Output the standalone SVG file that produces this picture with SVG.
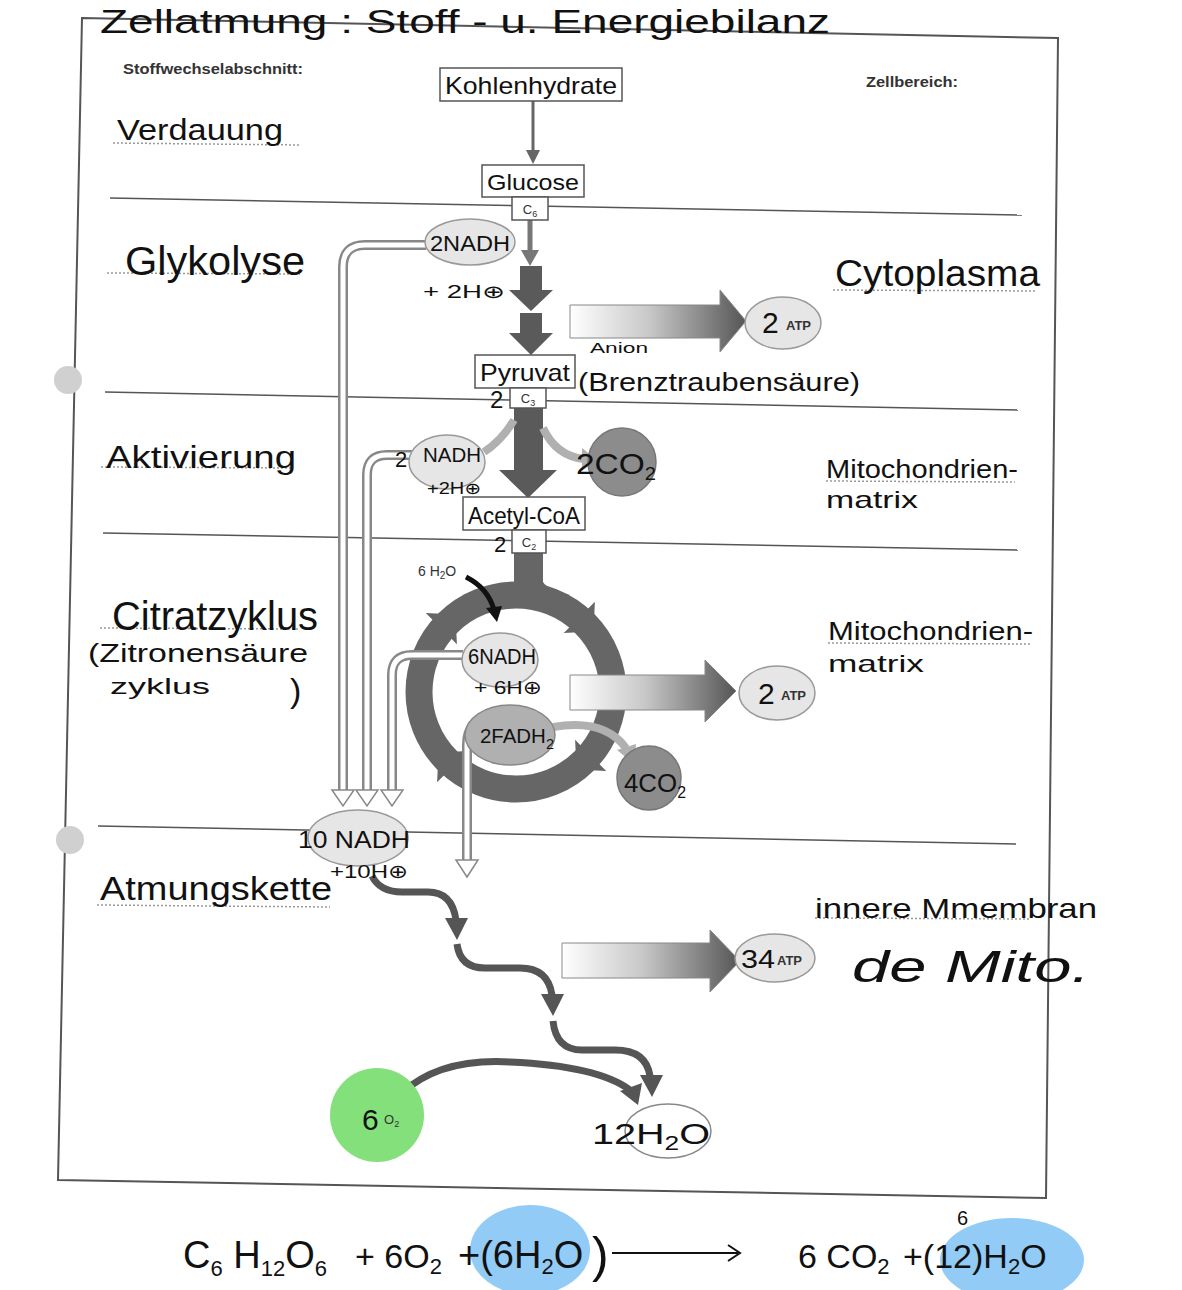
<svg xmlns="http://www.w3.org/2000/svg" width="1182" height="1290" viewBox="0 0 1182 1290">
<defs>
<style>
.hw{font-family:"Liberation Sans","DejaVu Sans",sans-serif;fill:#111}
.pr{font-family:"Liberation Sans",Arial,sans-serif;fill:#333}
.box{fill:#fff;stroke:#555;stroke-width:1.5}
.sep{stroke:#555;stroke-width:1.5;fill:none}
.dot{stroke:#999;stroke-width:1.5;stroke-dasharray:2 2;fill:none}
.ell{fill:#e6e6e6;stroke:#999;stroke-width:1.5}
.dark{fill:#8c8c8c;stroke:#777;stroke-width:1.5}
.holo{fill:none;stroke:#888;stroke-width:10}
.holi{fill:none;stroke:#fff;stroke-width:5}
.hhead{fill:#fff;stroke:#888;stroke-width:1.5}
.wave{fill:none;stroke:#555;stroke-width:7}
.whead{fill:#555}
.light{fill:none;stroke:#b0b0b0;stroke-width:8}
.lhead{fill:#b0b0b0}
</style>
<linearGradient id="atpg" x1="0" y1="0" x2="1" y2="0">
<stop offset="0" stop-color="#ffffff"/>
<stop offset="0.45" stop-color="#c8c8c8"/>
<stop offset="1" stop-color="#555"/>
</linearGradient>
<polygon id="tooth" points="-8,-22 -8,22 12,0" fill="#666"/>
</defs>
<rect x="0" y="0" width="1182" height="1290" fill="#fff"/>

<!-- page frame -->
<g id="frame">
<polygon points="82,18 1058,38 1046,1198 58,1180" fill="none" stroke="#555" stroke-width="2"/>
<circle cx="68" cy="380" r="14" fill="#d0d0d0"/>
<circle cx="70" cy="840" r="14" fill="#d0d0d0"/>
<line class="sep" x1="110" y1="198" x2="1022" y2="215"/>
<line class="sep" x1="105" y1="392" x2="1018" y2="410"/>
<line class="sep" x1="103" y1="533" x2="1018" y2="550"/>
<line class="sep" x1="98" y1="826" x2="1016" y2="844"/>
</g>

<g id="title">
<text class="hw" x="100" y="33" font-size="34" textLength="730" lengthAdjust="spacingAndGlyphs">Zellatmung : Stoff - u. Energiebilanz</text>
</g>
<g id="headers">
<text class="pr" x="123" y="74" font-size="14" font-weight="bold" textLength="180" lengthAdjust="spacingAndGlyphs">Stoffwechselabschnitt:</text>
<text class="pr" x="866" y="87" font-size="14" font-weight="bold" textLength="92" lengthAdjust="spacingAndGlyphs">Zellbereich:</text>
</g>

<!-- left labels -->
<g id="labels-left">
<line class="dot" x1="113" y1="143" x2="300" y2="145"/>
<text class="hw" x="117" y="140" font-size="30" textLength="166" lengthAdjust="spacingAndGlyphs">Verdauung</text>
<line class="dot" x1="107" y1="273" x2="300" y2="274"/>
<text class="hw" x="125" y="275" font-size="40" textLength="180" lengthAdjust="spacingAndGlyphs">Glykolyse</text>
<line class="dot" x1="101" y1="467" x2="290" y2="468"/>
<text class="hw" x="106" y="468" font-size="32" textLength="190" lengthAdjust="spacingAndGlyphs">Aktivierung</text>
<line class="dot" x1="100" y1="628" x2="300" y2="629"/>
<text class="hw" x="112" y="630" font-size="40" textLength="206" lengthAdjust="spacingAndGlyphs">Citratzyklus</text>
<text class="hw" x="88" y="662" font-size="26" textLength="220" lengthAdjust="spacingAndGlyphs">(Zitronensäure</text>
<text class="hw" x="110" y="694" font-size="22" textLength="100" lengthAdjust="spacingAndGlyphs">zyklus</text>
<text class="hw" x="290" y="702" font-size="34">)</text>
<line class="dot" x1="97" y1="905" x2="330" y2="907"/>
<text class="hw" x="100" y="900" font-size="34" textLength="232" lengthAdjust="spacingAndGlyphs">Atmungskette</text>
</g>

<!-- right labels -->
<g id="labels-right">
<line class="dot" x1="833" y1="290" x2="1035" y2="291"/>
<text class="hw" x="835" y="286" font-size="36" textLength="205" lengthAdjust="spacingAndGlyphs">Cytoplasma</text>
<line class="dot" x1="826" y1="481" x2="1015" y2="482"/>
<text class="hw" x="826" y="478" font-size="26" textLength="192" lengthAdjust="spacingAndGlyphs">Mitochondrien-</text>
<text class="hw" x="826" y="508" font-size="24" textLength="92" lengthAdjust="spacingAndGlyphs">matrix</text>
<line class="dot" x1="828" y1="643" x2="1030" y2="644"/>
<text class="hw" x="828" y="640" font-size="26" textLength="205" lengthAdjust="spacingAndGlyphs">Mitochondrien-</text>
<text class="hw" x="828" y="672" font-size="24" textLength="96" lengthAdjust="spacingAndGlyphs">matrix</text>
<line class="dot" x1="815" y1="918" x2="1030" y2="919"/>
<text class="hw" x="815" y="918" font-size="28" textLength="282" lengthAdjust="spacingAndGlyphs">innere Mmembran</text>
<text class="hw" x="852" y="982" font-size="44" font-style="italic" textLength="238" lengthAdjust="spacingAndGlyphs">de Mito.</text>
</g>

<!-- connectors -->
<g id="connectors">
<line x1="533" y1="101" x2="533" y2="152" stroke="#666" stroke-width="3"/>
<polygon points="526,150 540,150 533,164" fill="#666"/>
<line x1="530" y1="220" x2="530" y2="252" stroke="#777" stroke-width="5"/>
<polygon points="521,250 539,250 530,266" fill="#777"/>
<polygon points="520,266 542,266 542,290 553,290 531,311 509,290 520,290" fill="#5a5a5a"/>
<polygon points="520,313 542,313 542,333 553,333 531,355 509,333 520,333" fill="#5a5a5a"/>
<polygon points="514,408 543,408 543,470 557,470 528,498 499,470 514,470" fill="#5a5a5a"/>
<path class="light" d="M484,452 Q502,440 514,420"/>
<path class="light" d="M543,428 Q556,456 584,459"/>
<polygon class="lhead" points="582,448 597,460 582,471"/>
<path d="M514,553 L543,553 L543,582 Q548,590 570,595 L462,595 Q509,590 514,582 Z" fill="#666"/>
<circle cx="516" cy="692" r="97" fill="none" stroke="#666" stroke-width="27"/>
<use href="#tooth" transform="translate(585,623) rotate(45)"/>
<use href="#tooth" transform="translate(585,761) rotate(135)"/>
<use href="#tooth" transform="translate(447,761) rotate(225)"/>
<use href="#tooth" transform="translate(447,623) rotate(315)"/>
<path d="M466,577 Q488,588 494,610" fill="none" stroke="#111" stroke-width="5"/>
<polygon points="486,608 502,606 497,622" fill="#111"/>
<path class="light" d="M553,727 Q604,718 626,748"/>
<polygon class="lhead" points="617,750 636,744 634,764"/>
<polygon points="570,305 720,305 720,290 746,321 720,352 720,338 570,338" fill="url(#atpg)" stroke="#888" stroke-width="1"/>
<polygon points="570,675 705,675 705,660 736,691 705,722 705,710 570,710" fill="url(#atpg)" stroke="#888" stroke-width="1"/>
<polygon points="562,943 710,943 710,930 740,961 710,992 710,978 562,978" fill="url(#atpg)" stroke="#888" stroke-width="1"/>
<path class="holo" d="M426,245 L365,245 Q343,245 343,267 L343,792"/>
<path class="holi" d="M426,245 L365,245 Q343,245 343,267 L343,792"/>
<polygon class="hhead" points="332,790 354,790 343,806"/>
<path class="holo" d="M412,455 L387,455 Q367,455 367,475 L367,792"/>
<path class="holi" d="M412,455 L387,455 Q367,455 367,475 L367,792"/>
<polygon class="hhead" points="356,790 378,790 367,806"/>
<path class="holo" d="M463,655 L412,655 Q392,655 392,675 L392,792"/>
<path class="holi" d="M463,655 L412,655 Q392,655 392,675 L392,792"/>
<polygon class="hhead" points="381,790 403,790 392,806"/>
<path class="holo" d="M492,716 Q467,720 467,745 L467,862"/>
<path class="holi" d="M492,716 Q467,720 467,745 L467,862"/>
<polygon class="hhead" points="456,860 478,860 467,877"/>
<path class="wave" d="M372,876 Q380,892 402,892 L428,892 Q452,892 456,920"/>
<polygon class="whead" points="445,918 468,918 457,940"/>
<path class="wave" d="M457,944 Q460,968 485,968 L520,968 Q548,968 552,995"/>
<polygon class="whead" points="541,994 564,994 553,1016"/>
<path class="wave" d="M553,1021 Q556,1050 582,1050 L615,1050 Q646,1050 650,1076"/>
<polygon class="whead" points="640,1075 663,1075 652,1097"/>
<path class="wave" d="M402,1093 Q440,1058 510,1062 Q598,1066 630,1090"/>
<polygon class="whead" points="620,1091 642,1083 638,1105"/>
</g>

<!-- nodes -->
<g id="kohlenhydrate">
<rect class="box" x="440" y="68" width="182" height="33"/>
<text class="hw" x="531" y="94" font-size="24" text-anchor="middle" textLength="172" lengthAdjust="spacingAndGlyphs">Kohlenhydrate</text>
</g>
<g id="glucose">
<rect class="box" x="482" y="165" width="102" height="32"/>
<text class="hw" x="533" y="190" font-size="22" text-anchor="middle" textLength="92" lengthAdjust="spacingAndGlyphs">Glucose</text>
<rect class="box" x="512" y="197" width="36" height="23"/>
<text class="pr" x="530" y="214" font-size="13" text-anchor="middle">C<tspan font-size="9" dy="3">6</tspan></text>
</g>
<g id="nadh-glyk">
<ellipse class="ell" cx="470" cy="242" rx="45" ry="23"/>
<text class="hw" x="470" y="251" font-size="22" text-anchor="middle" textLength="80" lengthAdjust="spacingAndGlyphs">2NADH</text>
<text class="hw" x="423" y="298" font-size="18" textLength="82" lengthAdjust="spacingAndGlyphs">+ 2H⊕</text>
</g>
<g id="atp-glyk">
<ellipse class="ell" cx="783" cy="323" rx="38" ry="26"/>
<text class="hw" x="762" y="333" font-size="30">2</text>
<text class="pr" x="786" y="330" font-size="13" font-weight="bold">ATP</text>
</g>
<g id="pyruvat">
<rect class="box" x="475" y="355" width="100" height="33"/>
<text class="hw" x="525" y="381" font-size="24" text-anchor="middle" textLength="90" lengthAdjust="spacingAndGlyphs">Pyruvat</text>
<rect class="box" x="510" y="388" width="36" height="20"/>
<text class="pr" x="528" y="403" font-size="13" text-anchor="middle">C<tspan font-size="9" dy="3">3</tspan></text>
<text class="hw" x="490" y="408" font-size="24">2</text>
<text class="hw" x="590" y="353" font-size="15" textLength="58" lengthAdjust="spacingAndGlyphs">Anion</text>
<text class="hw" x="578" y="391" font-size="26" textLength="282" lengthAdjust="spacingAndGlyphs">(Brenztraubensäure)</text>
</g>
<g id="nadh-akt">
<ellipse class="ell" cx="447" cy="462" rx="38" ry="27"/>
<text class="hw" x="395" y="467" font-size="22">2</text>
<text class="hw" x="452" y="462" font-size="21" text-anchor="middle" textLength="58" lengthAdjust="spacingAndGlyphs">NADH</text>
<text class="hw" x="427" y="494" font-size="16" textLength="54" lengthAdjust="spacingAndGlyphs">+2H⊕</text>
</g>
<g id="co2-akt">
<circle class="dark" cx="622" cy="462" r="34"/>
<text class="hw" x="576" y="474" font-size="30" textLength="80" lengthAdjust="spacingAndGlyphs">2CO<tspan font-size="18" dy="6">2</tspan></text>
</g>
<g id="acetyl-coa">
<rect class="box" x="463" y="497" width="122" height="33"/>
<text class="hw" x="524" y="524" font-size="24" text-anchor="middle" textLength="112" lengthAdjust="spacingAndGlyphs">Acetyl-CoA</text>
<rect class="box" x="512" y="530" width="34" height="23"/>
<text class="pr" x="529" y="547" font-size="13" text-anchor="middle">C<tspan font-size="9" dy="3">2</tspan></text>
<text class="hw" x="494" y="552" font-size="22">2</text>
</g>
<g id="h2o-cit">
<text class="pr" x="418" y="576" font-size="14">6 H<tspan font-size="10" dy="3">2</tspan><tspan dy="-3">O</tspan></text>
</g>
<g id="nadh-cit">
<ellipse class="ell" cx="500" cy="660" rx="38" ry="27"/>
<text class="hw" x="502" y="664" font-size="22" text-anchor="middle" textLength="68" lengthAdjust="spacingAndGlyphs">6NADH</text>
<text class="hw" x="474" y="694" font-size="19" textLength="68" lengthAdjust="spacingAndGlyphs">+ 6H⊕</text>
</g>
<g id="fadh2">
<ellipse cx="510" cy="735" rx="45" ry="30" fill="#b0b0b0" stroke="#888" stroke-width="1.5"/>
<text class="hw" x="480" y="743" font-size="21" textLength="74" lengthAdjust="spacingAndGlyphs">2FADH<tspan font-size="15" dy="6">2</tspan></text>
</g>
<g id="co2-cit">
<circle class="dark" cx="649" cy="778" r="32"/>
<text class="hw" x="624" y="792" font-size="26" textLength="62" lengthAdjust="spacingAndGlyphs">4CO<tspan font-size="16" dy="6">2</tspan></text>
</g>
<g id="atp-cit">
<ellipse class="ell" cx="777" cy="693" rx="38" ry="27"/>
<text class="hw" x="758" y="704" font-size="30">2</text>
<text class="pr" x="781" y="700" font-size="13" font-weight="bold">ATP</text>
</g>
<g id="nadh-total">
<ellipse class="ell" cx="358" cy="838" rx="50" ry="28"/>
<text class="hw" x="298" y="848" font-size="24" textLength="112" lengthAdjust="spacingAndGlyphs">10 NADH</text>
<text class="hw" x="330" y="878" font-size="19" textLength="78" lengthAdjust="spacingAndGlyphs">+10H⊕</text>
</g>
<g id="atp-atm">
<ellipse class="ell" cx="775" cy="958" rx="40" ry="24"/>
<text class="hw" x="741" y="968" font-size="26" textLength="34" lengthAdjust="spacingAndGlyphs">34</text>
<text class="pr" x="777" y="965" font-size="13" font-weight="bold">ATP</text>
</g>
<g id="o2">
<circle cx="377" cy="1115" r="47" fill="#84e07a"/>
<text class="hw" x="362" y="1130" font-size="30">6</text>
<text class="pr" x="384" y="1124" font-size="13">O<tspan font-size="9" dy="3">2</tspan></text>
</g>
<g id="h2o-end">
<ellipse cx="668" cy="1131" rx="43" ry="27" fill="#fff" stroke="#888" stroke-width="1.5"/>
<text class="hw" x="592" y="1144" font-size="30" textLength="118" lengthAdjust="spacingAndGlyphs">12H<tspan font-size="20" dy="6">2</tspan><tspan dy="-6">O</tspan></text>
</g>

<!-- equation -->
<g id="equation">
<ellipse cx="530" cy="1250" rx="60" ry="45" fill="#92cbf5"/>
<ellipse cx="1012" cy="1260" rx="72" ry="42" fill="#92cbf5"/>
<text class="hw" x="183" y="1268" font-size="38">C<tspan font-size="22" dy="8">6</tspan><tspan dy="-8"> H</tspan><tspan font-size="22" dy="8">12</tspan><tspan dy="-8">O</tspan><tspan font-size="22" dy="8">6</tspan></text>
<text class="hw" x="355" y="1268" font-size="34">+ 6O<tspan font-size="22" dy="6">2</tspan></text>
<text class="hw" x="458" y="1268" font-size="38">+(6H<tspan font-size="22" dy="6">2</tspan><tspan dy="-6">O</tspan></text>
<text class="hw" x="592" y="1272" font-size="50">)</text>
<line x1="612" y1="1253" x2="738" y2="1253" stroke="#111" stroke-width="2"/>
<path d="M728,1245 L740,1253 L728,1261" fill="none" stroke="#111" stroke-width="2"/>
<text class="hw" x="798" y="1268" font-size="34">6 CO<tspan font-size="22" dy="6">2</tspan></text>
<text class="hw" x="903" y="1268" font-size="34">+(12)H<tspan font-size="22" dy="6">2</tspan><tspan dy="-6">O</tspan></text>
<text class="hw" x="957" y="1225" font-size="20">6</text>
</g>
</svg>
